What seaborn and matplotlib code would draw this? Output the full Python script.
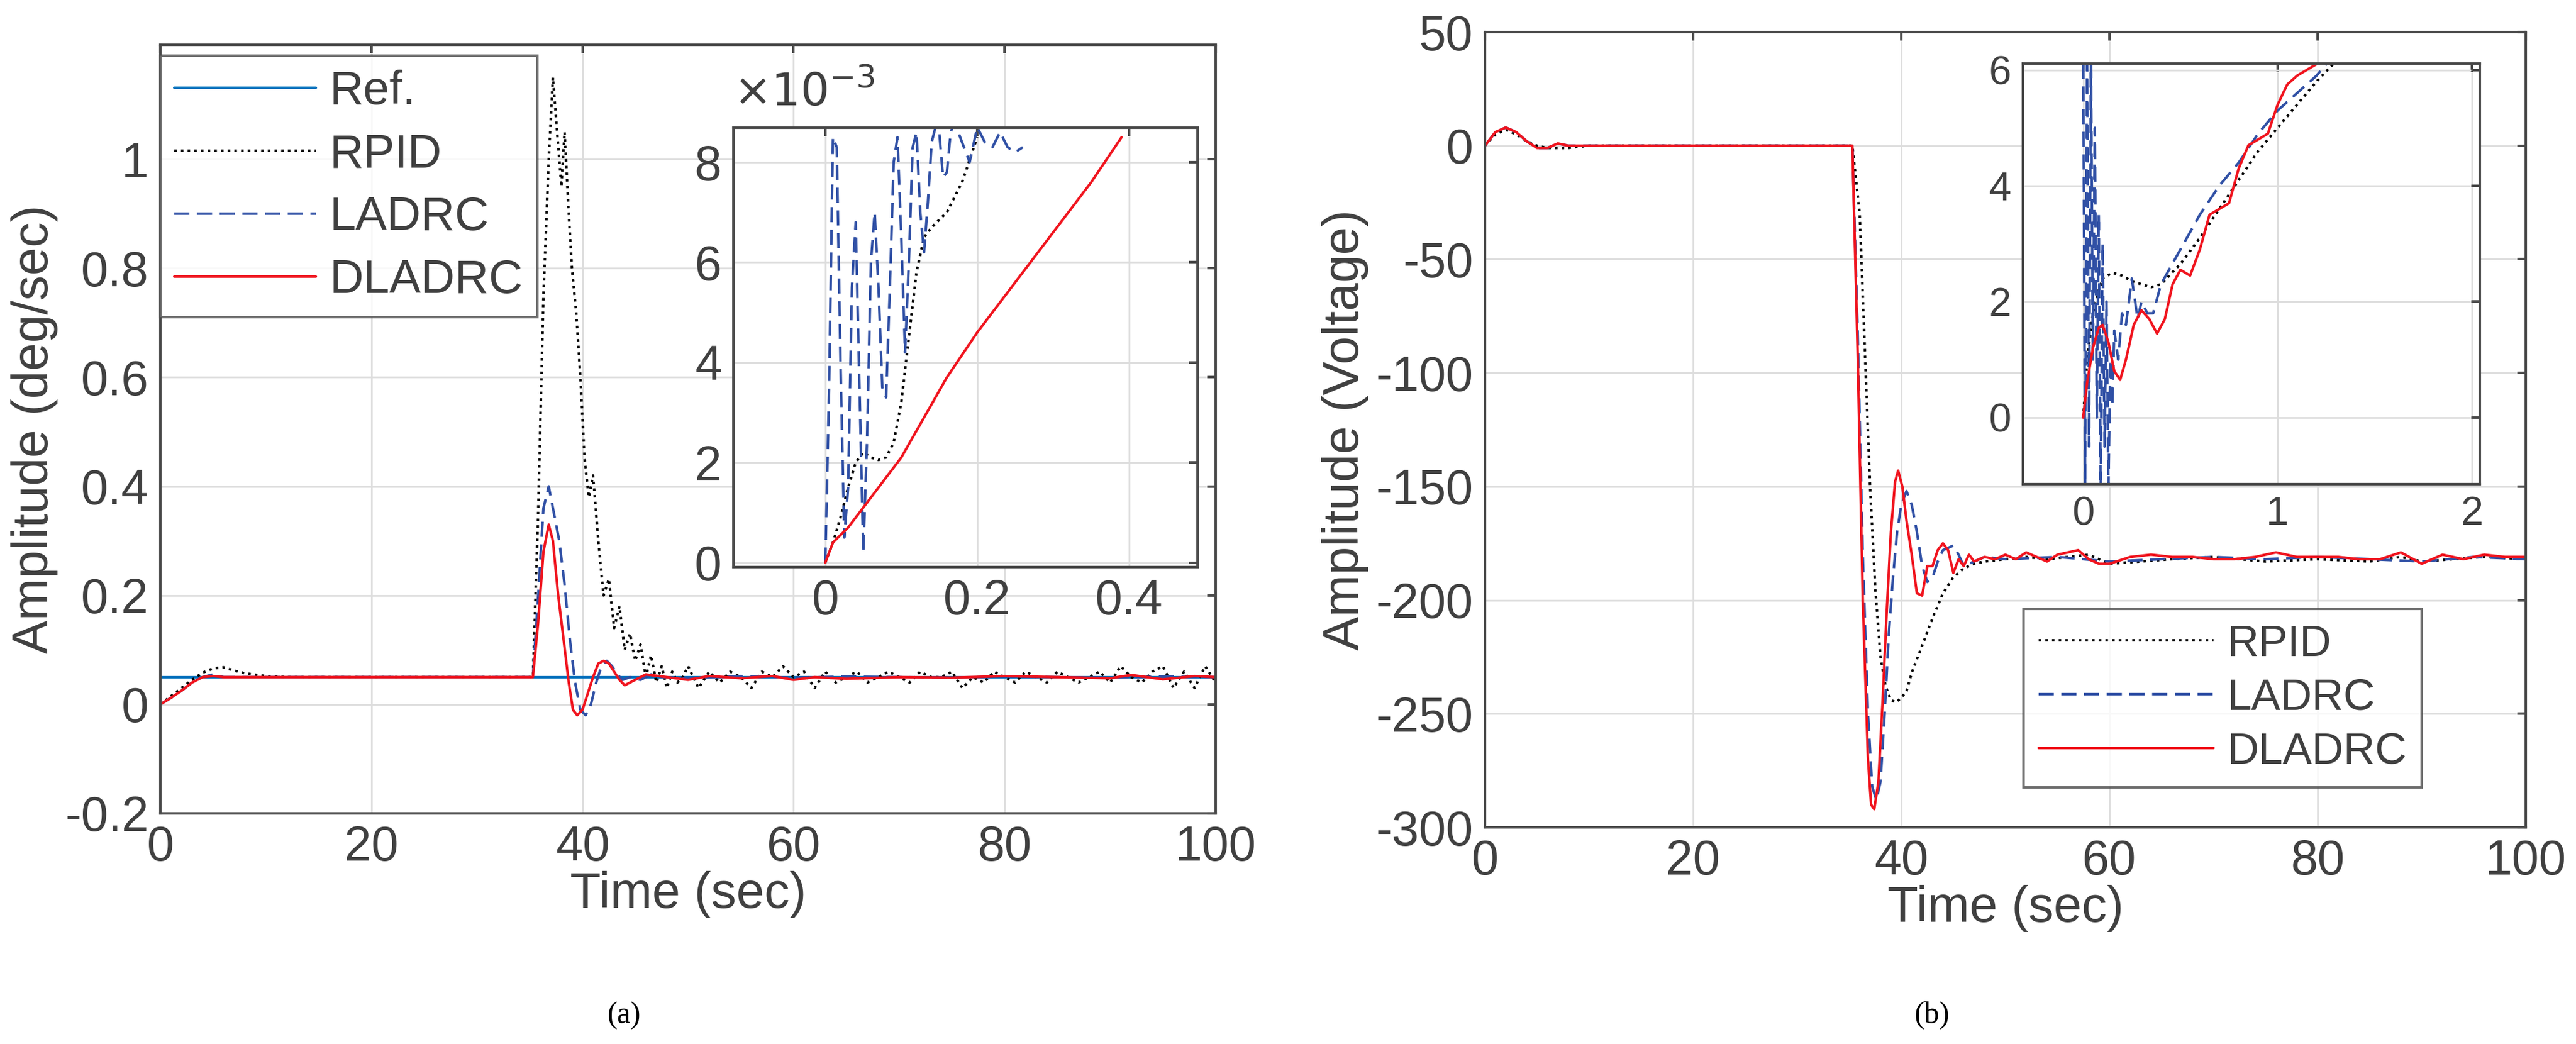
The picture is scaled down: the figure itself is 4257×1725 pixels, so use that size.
import numpy as np
import matplotlib
matplotlib.use("Agg")
import matplotlib.pyplot as plt
import seaborn as sns

# ---- panel (a): angular rate ----
ref_t = [0, 100]
ref_y = [0.05, 0.05]

rpid_a_t = [0, 1, 2, 3, 4, 5, 6, 7, 8, 10, 12, 35.3, 35.8, 36.3, 36.8, 37.2, 37.6, 38.0, 38.3, 38.7, 39.0,
            39.4, 39.8, 40.2, 40.6, 41.0, 41.5, 42.0, 42.5, 43.0, 43.5, 44.0, 44.5, 45.0, 45.5, 46.0, 46.5,
            47.0, 47.5, 48.0, 48.5, 49.0, 49.5, 50, 51, 52, 53, 54, 55, 56, 57, 58, 59, 60, 61, 62, 63, 64,
            65, 66, 67, 68, 69, 70, 71, 72, 73, 74, 75, 76, 77, 78, 79, 80, 81, 82, 83, 84, 85, 86, 87, 88,
            89, 90, 91, 92, 93, 94, 95, 96, 97, 98, 99, 100]
rpid_a_y = [0.0, 0.015, 0.03, 0.045, 0.058, 0.066, 0.068, 0.062, 0.057, 0.052, 0.05, 0.05, 0.35, 0.75, 1.0,
            1.15, 1.05, 0.95, 1.05, 0.9, 0.8, 0.72, 0.6, 0.45, 0.38, 0.42, 0.3, 0.2, 0.23, 0.14, 0.18, 0.1,
            0.13, 0.08, 0.11, 0.05, 0.09, 0.04, 0.07, 0.03, 0.06, 0.04, 0.05, 0.07, 0.03, 0.06, 0.04, 0.06,
            0.05, 0.03, 0.06, 0.05, 0.07, 0.05, 0.06, 0.03, 0.06, 0.04, 0.05, 0.06, 0.04, 0.05, 0.06, 0.05,
            0.04, 0.06, 0.05, 0.05, 0.06, 0.03, 0.05, 0.04, 0.06, 0.05, 0.04, 0.06, 0.05, 0.04, 0.06, 0.05,
            0.04, 0.05, 0.06, 0.04, 0.07, 0.05, 0.04, 0.06, 0.07, 0.03, 0.06, 0.03, 0.07, 0.04]

ladrc_a_t = [0, 1, 2, 3, 4, 5, 6, 8, 35.3, 35.8, 36.3, 36.8, 37.3, 37.8, 38.3, 38.8, 39.3, 39.8, 40.3,
             40.8, 41.3, 41.8, 42.3, 42.8, 43.3, 43.8, 44.5, 45.5, 46.5, 47.5, 50, 55, 60, 65, 70, 75, 80,
             85, 90, 95, 100]
ladrc_a_y = [0.0, 0.012, 0.025, 0.04, 0.05, 0.055, 0.05, 0.05, 0.05, 0.2, 0.36, 0.40, 0.35, 0.3, 0.22,
             0.12, 0.04, -0.01, -0.02, 0.0, 0.04, 0.07, 0.08, 0.07, 0.055, 0.045, 0.05, 0.045, 0.055,
             0.05, 0.048, 0.052, 0.049, 0.051, 0.05, 0.049, 0.051, 0.05, 0.049, 0.051, 0.05]

dladrc_a_t = [0, 1, 2, 3, 4, 5, 6, 8, 35.3, 35.8, 36.3, 36.8, 37.2, 37.7, 38.2, 38.7, 39.1, 39.5, 40.0,
              40.5, 41.0, 41.5, 42.0, 42.5, 43.0, 43.5, 44.0, 45, 46, 48, 50, 52, 55, 58, 60, 62, 65, 70,
              75, 80, 85, 90, 92, 95, 98, 100]
dladrc_a_y = [0.0, 0.012, 0.025, 0.04, 0.05, 0.052, 0.05, 0.05, 0.05, 0.15, 0.28, 0.33, 0.3, 0.2, 0.12,
              0.04, -0.01, -0.02, -0.01, 0.02, 0.05, 0.075, 0.08, 0.075, 0.06, 0.045, 0.035, 0.045, 0.055,
              0.05, 0.045, 0.052, 0.048, 0.052, 0.045, 0.05, 0.047, 0.05, 0.049, 0.052, 0.05, 0.048, 0.054,
              0.046, 0.052, 0.05]

# inset (a), values in units of 1e-3
ins_a_rpid_t = [0, 0.01, 0.02, 0.03, 0.04, 0.05, 0.06, 0.07, 0.08, 0.09, 0.10, 0.11, 0.12, 0.13, 0.14,
                0.16, 0.18, 0.20]
ins_a_rpid_y = [0, 0.4, 0.9, 1.5, 2.0, 2.2, 2.1, 2.05, 2.1, 2.4, 3.2, 4.5, 5.8, 6.5, 6.7, 7.0, 7.6, 8.5]
ins_a_ladrc_t = [0, 0.005, 0.01, 0.015, 0.02, 0.025, 0.03, 0.035, 0.04, 0.045, 0.05, 0.055, 0.06, 0.065,
                 0.07, 0.075, 0.08, 0.085, 0.09, 0.095, 0.10, 0.105, 0.11, 0.115, 0.12, 0.125, 0.13, 0.135,
                 0.14, 0.145, 0.15, 0.155, 0.16, 0.165, 0.17, 0.18, 0.19, 0.2, 0.21, 0.22, 0.23, 0.24, 0.25,
                 0.26]
ins_a_ladrc_y = [0, 3.5, 8.5, 8.3, 4.0, 0.5, 1.5, 5.5, 6.8, 3.5, 0.2, 2.5, 6.0, 7.0, 5.5, 3.5, 3.3, 5.5,
                 8.0, 8.5, 6.5, 4.2, 6.0, 8.3, 8.6, 7.0, 6.2, 7.2, 8.4, 8.7, 8.6, 7.7, 7.8, 8.6, 8.8, 8.4,
                 8.0, 8.7, 8.4, 8.3, 8.6, 8.3, 8.2, 8.3]
ins_a_dladrc_t = [0, 0.01, 0.03, 0.05, 0.08, 0.10, 0.13, 0.16, 0.20, 0.25, 0.30, 0.35, 0.39]
ins_a_dladrc_y = [0, 0.4, 0.7, 1.1, 1.7, 2.1, 2.9, 3.7, 4.6, 5.6, 6.6, 7.6, 8.5]

# ---- panel (b): control voltage ----
rpid_b_t = [0, 1, 2, 3, 4, 5, 6, 8, 10, 35.3, 36.0, 36.5, 37.0, 37.5, 38.0, 38.5, 39.0, 39.5, 40.0, 40.5,
            41.0, 42.0, 43.0, 44.0, 45.0, 46.0, 47.0, 48.0, 50, 52, 54, 56, 58, 60, 63, 66, 70, 75, 80, 85,
            88, 90, 93, 96, 100]
rpid_b_y = [0, 5, 7, 5, 2, 0, -1, -1, 0, 0, -30, -90, -150, -195, -225, -238, -244, -245, -243, -240, -232,
            -220, -208, -197, -190, -186, -184, -183, -182, -181, -182, -181, -180, -184, -183, -182, -181,
            -183, -182, -183, -181, -183, -182, -181, -182]
ladrc_b_t = [0, 1, 2, 3, 4, 5, 6, 7, 8, 10, 35.3, 35.8, 36.3, 36.8, 37.2, 37.6, 38.0, 38.4, 38.8, 39.2,
             39.6, 40.0, 40.5, 41.0, 41.5, 42.0, 42.5, 43.0, 43.5, 44.0, 44.5, 45.0, 45.5, 46.0, 47, 48, 50,
             55, 60, 65, 70, 75, 80, 85, 90, 95, 100]
ladrc_b_y = [0, 6, 8, 6, 2, -1, -1, 1, 0, 0, 0, -80, -180, -250, -282, -288, -280, -250, -215, -190,
             -170, -158, -152, -158, -170, -185, -192, -190, -183, -178, -177, -176, -180, -185, -183,
             -181, -182, -181, -183, -182, -181, -182, -181, -182, -183, -181, -182]
dladrc_b_t = [0, 1, 2, 3, 4, 5, 6, 7, 8, 10, 35.3, 35.8, 36.3, 36.8, 37.1, 37.4, 37.8, 38.2, 38.6, 39.0,
              39.4, 39.7, 40.1, 40.5, 41.0, 41.5, 42.0, 42.5, 43.0, 43.5, 44.0, 44.5, 45.0, 45.5, 46.0,
              46.5, 47.0, 48, 49, 50, 51, 52, 53, 54, 55, 56, 57, 58, 59, 60, 62, 64, 66, 68, 70, 72, 74,
              76, 78, 80, 82, 84, 86, 88, 90, 92, 94, 96, 98, 100]
dladrc_b_y = [0, 6, 8, 6, 2, -1, -1, 1, 0, 0, 0, -90, -200, -270, -290, -292, -280, -245, -205, -170,
              -148, -143, -150, -165, -180, -197, -198, -185, -185, -178, -175, -178, -188, -182, -185,
              -180, -183, -181, -182, -180, -182, -179, -181, -183, -180, -179, -178, -182, -184, -184,
              -181, -180, -181, -181, -182, -182, -181, -179, -181, -181, -181, -182, -182, -179, -184,
              -180, -182, -180, -181, -181]

# inset (b)
ins_b_rpid_t = [0, 0.02, 0.05, 0.08, 0.1, 0.15, 0.2, 0.25, 0.3, 0.35, 0.4, 0.5, 0.6, 0.7, 0.8, 0.9, 1.0,
                1.1, 1.2, 1.3]
ins_b_rpid_y = [0, 1.0, 1.8, 2.2, 2.4, 2.5, 2.45, 2.35, 2.3, 2.25, 2.3, 2.65, 3.1, 3.6, 4.1, 4.6, 5.0,
                5.4, 5.8, 6.15]
ins_b_ladrc_t = [0, 0.01, 0.02, 0.03, 0.04, 0.05, 0.06, 0.07, 0.08, 0.09, 0.10, 0.11, 0.12, 0.13, 0.14,
                 0.15, 0.16, 0.18, 0.2, 0.22, 0.25, 0.28, 0.3, 0.33, 0.36, 0.4, 0.45, 0.5, 0.6, 0.7, 0.8,
                 0.9, 1.0, 1.1, 1.2, 1.25]
ins_b_ladrc_y = [6.5, -1.2, 6.5, -0.5, 6.3, 1.0, 5.0, 0.0, 3.5, -1.2, 3.0, -0.5, 2.0, -1.2, 1.0, 0.2, 1.5,
                 1.0, 1.8, 1.6, 2.4, 1.7, 2.0, 1.8, 1.8, 2.3, 2.6, 2.9, 3.5, 4.0, 4.4, 4.9, 5.3, 5.6, 5.9,
                 6.1]
ins_b_dladrc_t = [0, 0.02, 0.05, 0.08, 0.1, 0.13, 0.16, 0.19, 0.22, 0.26, 0.3, 0.34, 0.38, 0.42, 0.46,
                  0.5, 0.55, 0.6, 0.65, 0.7, 0.75, 0.8, 0.85, 0.9, 0.95, 1.0, 1.05, 1.1, 1.15, 1.2, 1.25]
ins_b_dladrc_y = [0, 0.6, 1.2, 1.55, 1.6, 1.3, 0.8, 0.65, 1.0, 1.6, 1.85, 1.7, 1.45, 1.7, 2.3, 2.55, 2.45,
                  2.9, 3.5, 3.6, 3.7, 4.3, 4.7, 4.8, 4.9, 5.4, 5.75, 5.9, 6.0, 6.1, 6.2]

BLUE_REF = "#0072BD"
BLUE = "#3050A5"
RED = "#F0141E"
TXT = "#404040"

sns.set_theme(style="white")
plt.rcParams["font.family"] = ["Liberation Sans Narrow", "Liberation Sans", "DejaVu Sans"]
plt.rcParams["axes.unicode_minus"] = False
plt.rcParams["text.color"] = TXT
plt.rcParams["axes.labelcolor"] = TXT
plt.rcParams["xtick.color"] = TXT
plt.rcParams["ytick.color"] = TXT

W, H = 4257, 1725
fig = plt.figure(figsize=(W / 100, H / 100), dpi=100)


def box(l, t, r, b):
    return [l / W, 1 - b / H, (r - l) / W, (b - t) / H]


def style(ax, fs):
    ax.grid(True, color="#dddddd", linewidth=2)
    ax.set_axisbelow(True)
    for s in ax.spines.values():
        s.set_color("#4a4a4a")
        s.set_linewidth(3)
    ax.tick_params(direction="in", length=10, width=3, labelsize=fs, top=True, right=True,
                   color="#4a4a4a", pad=14)


def draw(ax, t, y, color, ls, lw, label=None):
    sns.lineplot(x=t, y=y, ax=ax, color=color, linestyle=ls, linewidth=lw, sort=False,
                 estimator=None, label=label, legend=False)


# panel (a)
ax1 = fig.add_axes(box(265, 74, 2009, 1344))
draw(ax1, ref_t, ref_y, BLUE_REF, "-", 3, "Ref.")
draw(ax1, rpid_a_t, rpid_a_y, "black", ":", 3, "RPID")
draw(ax1, ladrc_a_t, ladrc_a_y, BLUE, (0, (6, 3)), 3, "LADRC")
draw(ax1, dladrc_a_t, dladrc_a_y, RED, "-", 3, "DLADRC")
ax1.set_xlim(0, 100)
ax1.set_ylim(-0.2, 1.21)
ax1.set_xticks([0, 20, 40, 60, 80, 100])
ax1.set_yticks([-0.2, 0, 0.2, 0.4, 0.6, 0.8, 1])
ax1.set_yticklabels(["-0.2", "0", "0.2", "0.4", "0.6", "0.8", "1"])
style(ax1, 58)
ax1.set_xlabel("Time (sec)", fontsize=60, labelpad=0)
ax1.set_ylabel("Amplitude (deg/sec)", fontsize=60, labelpad=8)
leg = ax1.legend(loc="upper left", bbox_to_anchor=(0, 0.986), fontsize=56, frameon=True, fancybox=False,
                 borderaxespad=0, handlelength=3.0, labelspacing=0.4, borderpad=0.3, handletextpad=0.3)
leg.get_frame().set_edgecolor("#4a4a4a")
leg.get_frame().set_linewidth(3)

ins1 = fig.add_axes(box(1212, 211, 1979, 937))
draw(ins1, ins_a_rpid_t, ins_a_rpid_y, "black", ":", 3)
draw(ins1, ins_a_ladrc_t, ins_a_ladrc_y, BLUE, (0, (6, 3)), 3)
draw(ins1, ins_a_dladrc_t, ins_a_dladrc_y, RED, "-", 3)
ins1.set_xlim(-0.121, 0.49)
ins1.set_ylim(-0.09, 8.69)
ins1.set_xticks([0, 0.2, 0.4])
ins1.set_xticklabels(["0", "0.2", "0.4"])
ins1.set_yticks([0, 2, 4, 6, 8])
style(ins1, 58)
ins1.set_xlabel("")
ins1.set_ylabel("")
ins1.text(0.0, 1.03, r"$\times10^{-3}$", transform=ins1.transAxes, fontsize=54, color=TXT,
          ha="left", va="bottom", math_fontfamily="dejavusans")
fig.text(1031 / W, 1 - 1678 / H, "(a)", fontsize=36, family="Liberation Serif", color="black",
         ha="center", va="center")

# panel (b)
ax2 = fig.add_axes(box(2454, 53, 4174, 1367))
draw(ax2, rpid_b_t, rpid_b_y, "black", ":", 3, "RPID")
draw(ax2, ladrc_b_t, ladrc_b_y, BLUE, (0, (6, 3)), 3, "LADRC")
draw(ax2, dladrc_b_t, dladrc_b_y, RED, "-", 3, "DLADRC")
ax2.set_xlim(0, 100)
ax2.set_ylim(-300, 50)
ax2.set_xticks([0, 20, 40, 60, 80, 100])
ax2.set_yticks([-300, -250, -200, -150, -100, -50, 0, 50])
style(ax2, 58)
ax2.set_xlabel("Time (sec)", fontsize=60, labelpad=0)
ax2.set_ylabel("Amplitude (Voltage)", fontsize=60, labelpad=8)
leg2 = ax2.legend(loc="lower right", bbox_to_anchor=(0.9, 0.05), fontsize=52, frameon=True,
                  fancybox=False, borderaxespad=0, handlelength=4.0, labelspacing=0.3, borderpad=0.35,
                  handletextpad=0.3)
leg2.get_frame().set_edgecolor("#4a4a4a")
leg2.get_frame().set_linewidth(3)

ins2 = fig.add_axes(box(3343, 105, 4098, 800))
draw(ins2, ins_b_rpid_t, ins_b_rpid_y, "black", ":", 3)
draw(ins2, ins_b_ladrc_t, ins_b_ladrc_y, BLUE, (0, (6, 3)), 3)
draw(ins2, ins_b_dladrc_t, ins_b_dladrc_y, RED, "-", 3)
ins2.set_xlim(-0.31, 2.04)
ins2.set_ylim(-1.15, 6.11)
ins2.set_xticks([0, 1, 2])
ins2.set_yticks([0, 2, 4, 6])
style(ins2, 48)
ins2.set_xlabel("")
ins2.set_ylabel("")
fig.text(3193 / W, 1 - 1678 / H, "(b)", fontsize=36, family="Liberation Serif", color="black",
         ha="center", va="center")

fig.savefig("out.png", dpi=100)
